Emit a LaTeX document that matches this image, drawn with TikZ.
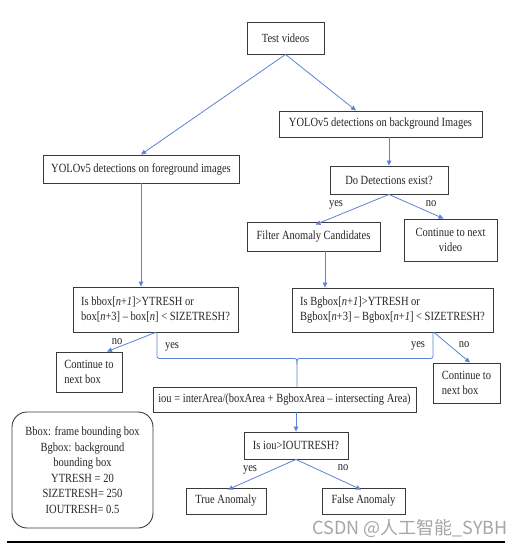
\documentclass[tikz,border=0pt]{standalone}
\usepackage{fontspec}
\setmainfont[FakeStretch=0.84]{Liberation Serif}
\newfontfamily\cjkwm{Noto Sans CJK SC}
\usetikzlibrary{arrows.meta,calc}
\definecolor{arrowblue}{HTML}{5B84D6}
\definecolor{boxline}{HTML}{3A3A3A}
\begin{document}
\begin{tikzpicture}[x=1pt,y=-1pt,
  font=\fontsize{12.5}{15.5}\selectfont,
  box/.style={draw=boxline,line width=0.9pt,inner sep=0pt,align=center,text=black!85},
  lbox/.style={box,align=left},
  arr/.style={draw=arrowblue,line width=0.8pt,-{Triangle[length=5pt,width=4.5pt]}},
  lab/.style={inner sep=0pt,text=black!85}]
\useasboundingbox (0,0) rectangle (525,547);
\fill[white] (0,0) rectangle (525,547);

\node[box,minimum width=77pt,minimum height=32pt] (tv) at (285.5,38) {Test videos};
\node[box,minimum width=203pt,minimum height=26pt] (bg) at (380.5,124) {YOLOv5 detections on background Images};
\node[box,minimum width=196pt,minimum height=28pt] (fg) at (141,169) {YOLOv5 detections on foreground images};
\node[box,minimum width=118pt,minimum height=28pt] (dd) at (389,180) {Do Detections exist?};
\node[box,minimum width=133pt,minimum height=29pt] (fa) at (313.5,236.5) {Filter Anomaly Candidates};
\node[box,minimum width=93pt,minimum height=42pt] (cv) at (450.5,240) {Continue to next\\video};
\node[lbox,minimum width=165pt,minimum height=45pt] (lq) at (155.5,309.5) {Is bbox[\textit{n}+\textit{1}]>YTRESH or\\box[\textit{n}+3] -- box[\textit{n}] < SIZETRESH?};
\node[lbox,minimum width=201pt,minimum height=44pt] (rq) at (392.5,310) {Is Bgbox[\textit{n}+\textit{1}]>YTRESH or\\Bgbox[\textit{n}+3] -- Bgbox[\textit{n}+\textit{1}] < SIZETRESH?};
\node[lbox,minimum width=66pt,minimum height=40pt] (cl) at (89,372) {Continue to\\next box};
\node[lbox,minimum width=67pt,minimum height=40pt] (cr) at (466.5,383) {Continue to\\next box};
\node[box,minimum width=263pt,minimum height=25pt] (iou) at (284.5,399.5) {iou = interArea/(boxArea + BgboxArea -- intersecting Area)};
\node[box,minimum width=104pt,minimum height=27pt] (is) at (296,445.5) {Is iou>IOUTRESH?};
\node[box,minimum width=80pt,minimum height=26pt] (ta) at (226,501) {True Anomaly};
\node[box,minimum width=83pt,minimum height=26pt] (fl) at (363.5,501) {False Anomaly};
\node[box,rounded corners=15pt,minimum width=141pt,minimum height=116pt] (lg) at (82.5,470)
  {Bbox: frame bounding box\\Bgbox: background\\bounding box\\YTRESH = 20\\SIZETRESH= 250\\IOUTRESH= 0.5};

% connectors
\draw[arr] (tv.south) -- (fg.north);
\draw[arr] (tv.south) -- ([xshift=-24.5pt]bg.north);
\draw[arr] (dd.north |- bg.south) -- (dd.north);
\draw[arr] (dd.south) -- ([xshift=2pt,yshift=-3pt]fa.north);
\draw[arr] (dd.south) -- ([xshift=-7pt]cv.north);
\draw[arr] ([xshift=11.5pt]fa.south) -- ([xshift=11.5pt]fa.south |- rq.north);
\draw[arr] (fg.south) -- (fg.south |- lq.north);
\draw[arr] (lq.south) -- ([xshift=18pt]cl.north);
\draw[arr] ([xshift=41.5pt]rq.south) -- ([xshift=3.5pt]cr.north);
\coordinate (bl) at ([xshift=1.5pt]lq.south);
\coordinate (br) at ([xshift=40.5pt]rq.south);
\coordinate (bt) at ([xshift=12.5pt]iou.north);
\draw[arrowblue,line width=0.8pt]
  (bl) -- ($(bl)+(0,21)$) .. controls ($(bl)+(0,26)$) .. ($(bl)+(5,26)$)
  -- ($(bt|-bl)+(-5,26)$) .. controls ($(bt|-bl)+(0,26)$) .. ($(bt|-bl)+(0,32)$) -- (bt);
\draw[arrowblue,line width=0.8pt]
  (br) -- ($(br)+(0,21)$) .. controls ($(br)+(0,26)$) .. ($(br)+(-5,26)$)
  -- ($(bt|-br)+(5,26)$) .. controls ($(bt|-br)+(0,26)$) .. ($(bt|-br)+(0,32)$);
\draw[arr] (is.north |- iou.south) -- (is.north);
\draw[arr] (is.south) -- ([xshift=2pt,yshift=-2pt]ta.north);
\draw[arr] (is.south) -- ([xshift=-2.5pt,yshift=-2pt]fl.north);

% labels
\node[lab] at (336,205) {yes};
\node[lab] at (431,204) {no};
\node[lab] at (117,342) {no};
\node[lab] at (172,347) {yes};
\node[lab] at (418,346) {yes};
\node[lab] at (464,345) {no};
\node[lab] at (250,470) {yes};
\node[lab] at (343,468) {no};

% watermark and rule
\node[inner sep=0pt,anchor=east,text=black!35,font=\cjkwm\fontsize{18}{19}\selectfont] (wm) at (508,528) {CSDN @人工智能\_SYBH};
\draw[black,line width=1.8pt] (7,542) -- (505,542);
\end{tikzpicture}
\end{document}
